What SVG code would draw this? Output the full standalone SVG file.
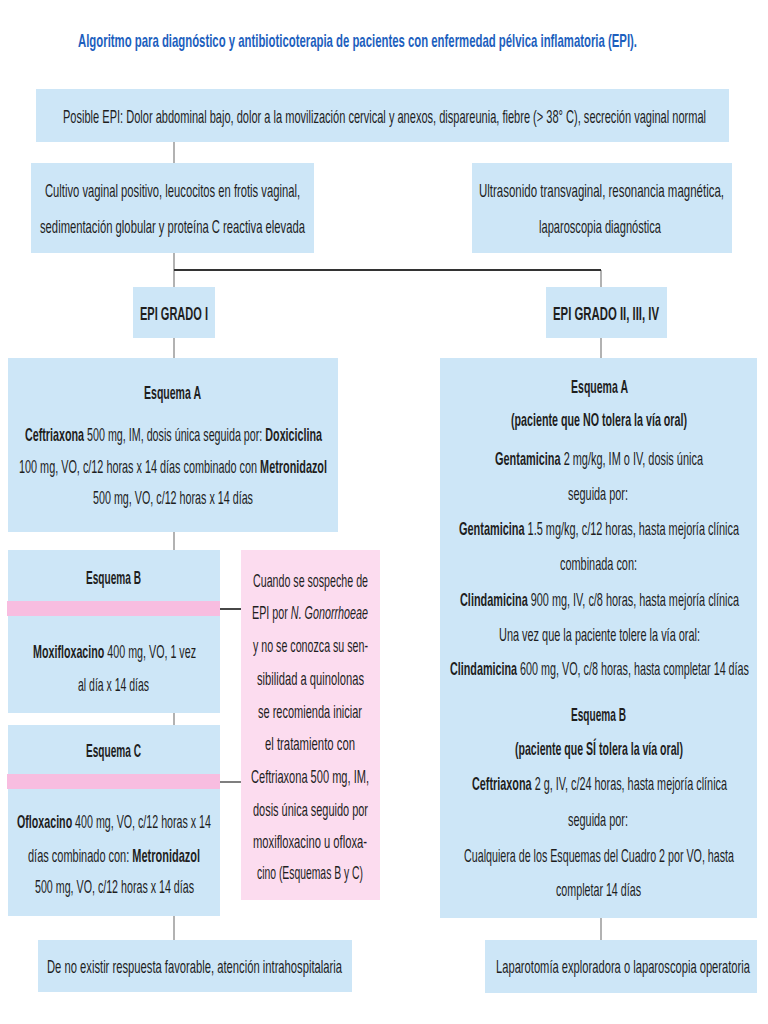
<svg xmlns="http://www.w3.org/2000/svg" width="768" height="1024" viewBox="0 0 768 1024">
<style>
text{font-family:"Liberation Sans Narrow","Liberation Sans",Arial,sans-serif;font-size:18.5px;fill:#1e1e1e;text-anchor:middle}
.b{font-weight:bold}
.i{font-style:italic}
.t{font-size:19px;font-weight:bold;fill:#1d5fbe}
.box{fill:#cde6f7}
.pink{fill:#fcdcef}
.band{fill:#f8bde0}
.c{stroke:#999;stroke-width:1.5;fill:none}
.k{stroke:#333;stroke-width:1.8;fill:none}
</style>
<rect width="768" height="1024" fill="#fff"/>
<text class="t" x="357.5" y="47" textLength="559" lengthAdjust="spacingAndGlyphs">Algoritmo para diagnóstico y antibioticoterapia de pacientes con enfermedad pélvica inflamatoria (EPI).</text>

<g id="connectors">
<path class="c" d="M174 142V163M174 253V270M174 270V287M601 270V287M174 338V358M601 338V358M174 532V550M174 713V725M174 916V940M601 918V940"/>
<path class="k" d="M174 270H601"/>
<path class="k" d="M220 609H241"/>
<path class="c" d="M220 782H241" style="stroke:#555"/>
</g>

<g id="n1"><rect class="box" x="36" y="89" width="693" height="53"/>
<text x="384.5" y="123" textLength="643" lengthAdjust="spacingAndGlyphs">Posible EPI: Dolor abdominal bajo, dolor a la movilización cervical y anexos, dispareunia, fiebre (&gt; 38° C), secreción vaginal normal</text></g>

<g id="n2"><rect class="box" x="31" y="163" width="283" height="90"/>
<text x="172.5" y="197" textLength="255" lengthAdjust="spacingAndGlyphs">Cultivo vaginal positivo, leucocitos en frotis vaginal,</text>
<text x="172.5" y="233" textLength="265" lengthAdjust="spacingAndGlyphs">sedimentación globular y proteína C reactiva elevada</text></g>

<g id="n3"><rect class="box" x="472" y="163" width="260" height="90"/>
<text x="601.5" y="197" textLength="245" lengthAdjust="spacingAndGlyphs">Ultrasonido transvaginal, resonancia magnética,</text>
<text x="600" y="233" textLength="122" lengthAdjust="spacingAndGlyphs">laparoscopia diagnóstica</text></g>

<g id="g1"><rect class="box" x="133" y="287" width="82" height="51"/>
<text class="b" x="174" y="320" textLength="68" lengthAdjust="spacingAndGlyphs">EPI GRADO I</text></g>

<g id="g2"><rect class="box" x="546" y="287" width="121" height="51"/>
<text class="b" x="606" y="320" textLength="106" lengthAdjust="spacingAndGlyphs">EPI GRADO II, III, IV</text></g>

<g id="ea-left"><rect class="box" x="8" y="358" width="330" height="174"/>
<text class="b" x="172.5" y="399" textLength="57" lengthAdjust="spacingAndGlyphs">Esquema A</text>
<text x="173.5" y="441" textLength="297" lengthAdjust="spacingAndGlyphs"><tspan class="b">Ceftriaxona</tspan> 500 mg, IM, dosis única seguida por: <tspan class="b">Doxiciclina</tspan></text>
<text x="173" y="473" textLength="308" lengthAdjust="spacingAndGlyphs">100 mg, VO, c/12 horas x 14 días combinado con <tspan class="b">Metronidazol</tspan></text>
<text x="173" y="504" textLength="160" lengthAdjust="spacingAndGlyphs">500 mg, VO, c/12 horas x 14 días</text></g>

<g id="right-main"><rect class="box" x="440" y="358" width="317" height="560"/>
<text class="b" x="599.5" y="393" textLength="57" lengthAdjust="spacingAndGlyphs">Esquema A</text>
<text class="b" x="599" y="426" textLength="176" lengthAdjust="spacingAndGlyphs">(paciente que NO tolera la vía oral)</text>
<text x="599" y="465" textLength="208" lengthAdjust="spacingAndGlyphs"><tspan class="b">Gentamicina</tspan> 2 mg/kg, IM o IV, dosis única</text>
<text x="598" y="500" textLength="60" lengthAdjust="spacingAndGlyphs">seguida por:</text>
<text x="599" y="535" textLength="280" lengthAdjust="spacingAndGlyphs"><tspan class="b">Gentamicina</tspan> 1.5 mg/kg, c/12 horas, hasta mejoría clínica</text>
<text x="598.5" y="570" textLength="77" lengthAdjust="spacingAndGlyphs">combinada con:</text>
<text x="599.5" y="606" textLength="279" lengthAdjust="spacingAndGlyphs"><tspan class="b">Clindamicina</tspan> 900 mg, IV, c/8 horas, hasta mejoría clínica</text>
<text x="599.5" y="641" textLength="201" lengthAdjust="spacingAndGlyphs">Una vez que la paciente tolere la vía oral:</text>
<text x="599.5" y="675" textLength="299" lengthAdjust="spacingAndGlyphs"><tspan class="b">Clindamicina</tspan> 600 mg, VO, c/8 horas, hasta completar 14 días</text>
<text class="b" x="598.5" y="721" textLength="55" lengthAdjust="spacingAndGlyphs">Esquema B</text>
<text class="b" x="599" y="755" textLength="168" lengthAdjust="spacingAndGlyphs">(paciente que SÍ tolera la vía oral)</text>
<text x="599.5" y="790" textLength="255" lengthAdjust="spacingAndGlyphs"><tspan class="b">Ceftriaxona</tspan> 2 g, IV, c/24 horas, hasta mejoría clínica</text>
<text x="598" y="826" textLength="60" lengthAdjust="spacingAndGlyphs">seguida por:</text>
<text x="599" y="862" textLength="270" lengthAdjust="spacingAndGlyphs">Cualquiera de los Esquemas del Cuadro 2 por VO, hasta</text>
<text x="598.5" y="896" textLength="85" lengthAdjust="spacingAndGlyphs">completar 14 días</text></g>

<g id="eb"><rect class="box" x="8" y="550" width="212" height="163"/>
<rect class="band" x="7" y="601" width="213" height="15"/>
<text class="b" x="113.5" y="584" textLength="55" lengthAdjust="spacingAndGlyphs">Esquema B</text>
<text x="114.5" y="658" textLength="163" lengthAdjust="spacingAndGlyphs"><tspan class="b">Moxifloxacino</tspan> 400 mg, VO, 1 vez</text>
<text x="113.5" y="691" textLength="71" lengthAdjust="spacingAndGlyphs">al día x 14 días</text></g>

<g id="ec"><rect class="box" x="8" y="725" width="212" height="191"/>
<rect class="band" x="7" y="774" width="213" height="15"/>
<text class="b" x="113.5" y="757" textLength="55" lengthAdjust="spacingAndGlyphs">Esquema C</text>
<text x="114" y="828" textLength="194" lengthAdjust="spacingAndGlyphs"><tspan class="b">Ofloxacino</tspan> 400 mg, VO, c/12 horas x 14</text>
<text x="114" y="862" textLength="172" lengthAdjust="spacingAndGlyphs">días combinado con: <tspan class="b">Metronidazol</tspan></text>
<text x="114.5" y="893" textLength="159" lengthAdjust="spacingAndGlyphs">500 mg, VO, c/12 horas x 14 días</text></g>

<g id="note"><rect class="pink" x="241" y="550" width="139" height="350"/>
<text x="310.5" y="587" textLength="115" lengthAdjust="spacingAndGlyphs">Cuando se sospeche de</text>
<text x="310" y="619" textLength="116" lengthAdjust="spacingAndGlyphs">EPI por <tspan class="i">N. Gonorrhoeae</tspan></text>
<text x="310.5" y="652" textLength="115" lengthAdjust="spacingAndGlyphs">y no se conozca su sen-</text>
<text x="310.5" y="685" textLength="107" lengthAdjust="spacingAndGlyphs">sibilidad a quinolonas</text>
<text x="310" y="718" textLength="104" lengthAdjust="spacingAndGlyphs">se recomienda iniciar</text>
<text x="310" y="750" textLength="90" lengthAdjust="spacingAndGlyphs">el tratamiento con</text>
<text x="310" y="783" textLength="118" lengthAdjust="spacingAndGlyphs">Ceftriaxona 500 mg, IM,</text>
<text x="310.5" y="816" textLength="115" lengthAdjust="spacingAndGlyphs">dosis única seguido por</text>
<text x="310" y="848" textLength="114" lengthAdjust="spacingAndGlyphs">moxifloxacino u ofloxa-</text>
<text x="310" y="879" textLength="106" lengthAdjust="spacingAndGlyphs">cino (Esquemas B y C)</text></g>

<g id="end-left"><rect class="box" x="38" y="940" width="314" height="52"/>
<text x="194.5" y="973" textLength="295" lengthAdjust="spacingAndGlyphs">De no existir respuesta favorable, atención intrahospitalaria</text></g>

<g id="end-right"><rect class="box" x="485" y="940" width="272" height="53"/>
<text x="623" y="973" textLength="254" lengthAdjust="spacingAndGlyphs">Laparotomía exploradora o laparoscopia operatoria</text></g>
</svg>
